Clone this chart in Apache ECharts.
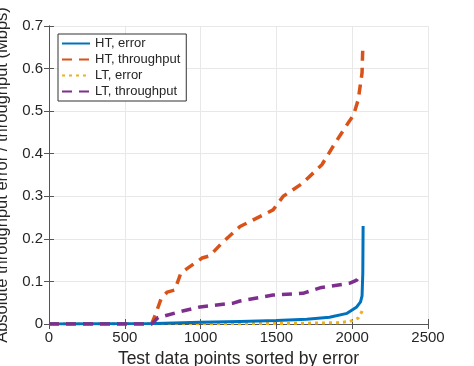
<!DOCTYPE html>
<html>
<head>
<meta charset="utf-8">
<script src="https://cdn.jsdelivr.net/npm/echarts@6/dist/echarts.min.js"></script>
<style>
  html, body { margin: 0; padding: 0; background: #fff; }
  #chart { width: 474px; height: 366px; }
</style>
</head>
<body>
<div id="chart"></div>
<script>
// values (x = test point index, y = Mbps)
var htErrX = [0, 700, 1000, 1260, 1500, 1700, 1850, 1966, 2030, 2055, 2065, 2070, 2072];
var htErrY = [0, 0.001, 0.004, 0.006, 0.008, 0.011, 0.016, 0.025, 0.04, 0.052, 0.066, 0.12, 0.23];

var htThrX = [0, 677, 700, 740, 780, 830, 870, 950, 1010, 1060, 1140, 1260, 1478, 1545, 1670, 1800, 1887, 1973, 2008, 2040, 2065, 2070];
var htThrY = [0, 0, 0.02, 0.06, 0.075, 0.08, 0.12, 0.14, 0.155, 0.16, 0.19, 0.229, 0.268, 0.30, 0.33, 0.374, 0.425, 0.472, 0.49, 0.527, 0.59, 0.652];

var ltErrX = [0, 1500, 1900, 1985, 2040, 2065, 2068];
var ltErrY = [0, 0.001, 0.003, 0.006, 0.014, 0.03, 0.033];

var ltThrX = [0, 677, 700, 720, 864, 996, 1215, 1260, 1478, 1675, 1788, 1985, 2030, 2050, 2058];
var ltThrY = [0, 0, 0.008, 0.015, 0.029, 0.04, 0.049, 0.054, 0.068, 0.072, 0.085, 0.096, 0.103, 0.115, 0.12];

var seriesNames = ['HT, error', 'HT, throughput', 'LT, error', 'LT, throughput'];

function pairs(xs, ys) {
    return xs.map(function (x, i) { return [x, ys[i]]; });
}

var txt = '#262626';
var font = 'Liberation Sans';
var myChart = echarts.init(document.getElementById('chart'));

var boxAxis = {
    axisLine: { show: true, lineStyle: { color: '#555', width: 1 } },
    axisTick: { show: true, inside: true, length: 5, lineStyle: { color: '#555' } },
    axisLabel: { show: false },
    splitLine: { show: false }
};

var options = {
    animation: false,
    textStyle: { fontFamily: font },
    grid: { left: 49, right: 46, top: 26, bottom: 42, outerBoundsMode: 'none', containLabel: false },
    legend: {
        orient: 'vertical',
        left: 58,
        top: 34,
        padding: [3, 6, 3, 3],
        itemGap: 3,
        itemWidth: 28,
        itemHeight: 12,
        backgroundColor: '#fff',
        borderColor: '#333',
        borderWidth: 1,
        borderRadius: 0,
        itemStyle: { opacity: 0 },
        textStyle: { fontSize: 13, color: txt, fontFamily: font },
        data: seriesNames
    },
    xAxis: [{
        type: 'value',
        min: 0, max: 2500, interval: 500,
        name: 'Test data points sorted by error',
        nameLocation: 'middle',
        nameGap: 20,
        nameTextStyle: { fontSize: 17.5, color: txt },
        axisLine: { show: true, onZero: false, lineStyle: { color: '#555' } },
        axisTick: { inside: true, length: 5, lineStyle: { color: '#555' } },
        axisLabel: { fontSize: 15, color: txt, margin: 6, formatter: function (v) { return String(v); } },
        splitLine: { show: true, lineStyle: { color: '#e8e8e8' } }
    }, Object.assign({
        type: 'value', position: 'top', min: 0, max: 2500, interval: 500
    }, boxAxis)],
    yAxis: [{
        type: 'value',
        min: 0, max: 0.7, interval: 0.1,
        name: 'Absolute throughput error / throughput (Mbps)',
        nameLocation: 'middle',
        nameGap: 33,
        nameTextStyle: { fontSize: 16.5, color: txt },
        axisLine: { show: true, onZero: false, lineStyle: { color: '#555' } },
        axisTick: { show: true, inside: true, length: 5, lineStyle: { color: '#555' } },
        axisLabel: { fontSize: 15, color: txt, margin: 6 },
        splitLine: { show: true, lineStyle: { color: '#e8e8e8' } }
    }, Object.assign({
        type: 'value', position: 'right', min: 0, max: 0.7, interval: 0.1
    }, boxAxis)],
    series: [
        {
            name: seriesNames[0], type: 'line', symbol: 'none', z: 5,
            itemStyle: { color: '#0072BD' },
            lineStyle: { color: '#0072BD', width: 3 },
            data: pairs(htErrX, htErrY)
        },
        {
            name: seriesNames[1], type: 'line', symbol: 'none', z: 3,
            itemStyle: { color: '#D95319' },
            lineStyle: { color: '#D95319', width: 3.5, type: [10, 7] },
            data: pairs(htThrX, htThrY)
        },
        {
            name: seriesNames[2], type: 'line', symbol: 'none', z: 4,
            itemStyle: { color: '#EDB120' },
            lineStyle: { color: '#EDB120', width: 3, type: [3, 4] },
            data: pairs(ltErrX, ltErrY)
        },
        {
            name: seriesNames[3], type: 'line', symbol: 'none', z: 6,
            itemStyle: { color: '#7E2F8E' },
            lineStyle: { color: '#7E2F8E', width: 3.5, type: [10, 7] },
            data: pairs(ltThrX, ltThrY)
        }
    ]
};
myChart.setOption(options);
</script>
</body>
</html>
